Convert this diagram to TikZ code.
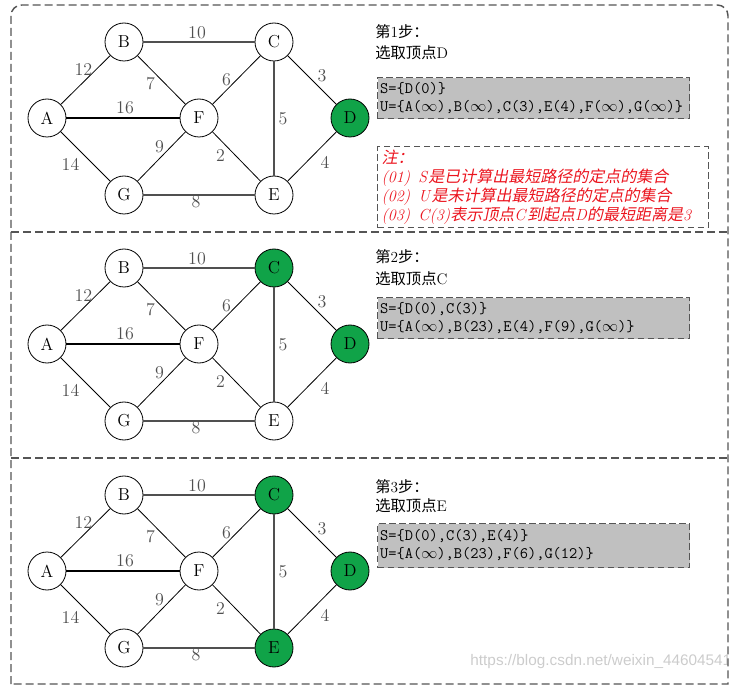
\documentclass[tikz,border=0pt]{standalone}
\usepackage{fontspec}
\newfontfamily\cjk{Noto Sans CJK SC}
\newfontfamily\cjkit[FakeSlant=0.2]{Noto Sans CJK SC}
\newfontfamily\wmfont{Liberation Sans}
\definecolor{pickgreen}{RGB}{16,163,72}
\definecolor{framegray}{RGB}{85,85,85}
\definecolor{boxgray}{RGB}{192,192,192}
\definecolor{wtgray}{RGB}{80,80,80}
\definecolor{notered}{RGB}{235,20,30}
\tikzset{
  frame/.style={draw=framegray, line width=1.1pt, dash pattern=on 6pt off 3pt},
  vtx/.style={circle, draw, line width=0.6pt, minimum size=28.5pt, inner sep=0pt,
    font=\fontsize{13}{13}\selectfont},
  ln/.style={line width=0.6pt},
  md/.style={line width=1pt},
  hv/.style={draw=wtgray, line width=1.4pt},
  wt/.style={text=wtgray, inner sep=0pt, font=\fontsize{13.5}{13.5}\selectfont},
  steptxt/.style={anchor=west, inner sep=0pt, font=\fontsize{11.5}{14}\selectfont},
  setbox/.style={anchor=north west, fill=boxgray, draw=framegray, line width=0.8pt,
    dash pattern=on 5pt off 2.5pt, inner xsep=2pt, inner ysep=0pt, text width=230pt,
    align=left, font=\ttfamily\fontsize{12}{13.5}\selectfont},
  notebox/.style={anchor=north west, draw=framegray, line width=0.8pt,
    dash pattern=on 5pt off 2.5pt, inner xsep=3pt, inner ysep=0pt, text width=242pt,
    minimum height=61pt, align=left, text=notered, font=\fontsize{12}{14.25}\selectfont}
}
\begin{document}
\begin{tikzpicture}[x=0.75pt, y=-0.75pt]
\useasboundingbox (0,0) rectangle (740,688);
\begin{scope}
\clip (0,0) rectangle (727,688);
\node[anchor=east, text=black!20, font=\wmfont\fontsize{11.5}{12}\selectfont] (wm) at (736,662) {https://blog.csdn.net/weixin\_44604541};
\end{scope}
\draw[frame] (11,684) [rounded corners=8] -- (11,5) -- (728,5) -- (728,100) [sharp corners] -- (728,684) -- cycle;
\draw[frame] (11,232) -- (728,232);
\draw[frame] (11,458) -- (728,458);
\foreach \i/\off/\cC/\cE in {1/0/white/white, 2/226/pickgreen/white, 3/453/pickgreen/pickgreen} {
  \begin{scope}[shift={(0,\off)}, name prefix=g\i-]
  \foreach \n/\x/\y/\f in {A/47/118/white, B/124/42/white, C/274/42/\cC, D/350/118/pickgreen,
      E/274/195/\cE, F/199/118/white, G/124/195/white}
    \node[vtx, fill=\f] (\n) at (\x,\y) {\n};
  \foreach \a/\b/\w/\dx/\dy/\s in {A/B/12/-2/-10/ln, B/C/10/-2/-9/hv, B/F/7/-11/4/ln,
      F/C/6/-10/0/ln, C/D/3/10/-4/ln, A/F/16/2/-10/md, C/E/5/9/0/hv, G/F/9/-2/-10/ln,
      F/E/2/-16/-1/ln, A/G/14/-15/8/ln, E/D/4/13/6/ln, G/E/8/-3/7/hv}
    \draw[\s] (\a) -- (\b) node[wt, midway, shift={(\dx,\dy)}] {\w};
  \end{scope}
}
\node[steptxt] (t1) at (375,32) {{\cjk 第}1{\cjk 步：}};
\node[steptxt] (p1) at (375,53) {{\cjk 选取顶点}D};
\node[setbox, minimum height=31pt] (set1) at (377,77)
  {S=\{D(0)\}\\U=\{A($\infty$),B($\infty$),C(3),E(4),F($\infty$),G($\infty$)\}};
\node[notebox] (note) at (377,146)
  {{\cjkit 注：}\\
   \textit{(01)\enspace S}{\cjkit 是已计算出最短路径的定点的集合}\\
   \textit{(02)\enspace U}{\cjkit 是未计算出最短路径的定点的集合}\\
   \textit{(03)\enspace C(3)}{\cjkit 表示顶点}\textit{C}{\cjkit 到起点}\textit{D}{\cjkit 的最短距离是}\textit{3}};
\node[steptxt] (t2) at (375,257) {{\cjk 第}2{\cjk 步：}};
\node[steptxt] (p2) at (375,279) {{\cjk 选取顶点}C};
\node[setbox, minimum height=31pt] (set2) at (377,297)
  {S=\{D(0),C(3)\}\\U=\{A($\infty$),B(23),E(4),F(9),G($\infty$)\}};
\node[steptxt] (t3) at (375,487) {{\cjk 第}3{\cjk 步：}};
\node[steptxt] (p3) at (375,506) {{\cjk 选取顶点}E};
\node[setbox, minimum height=33pt] (set3) at (377,523)
  {S=\{D(0),C(3),E(4)\}\\U=\{A($\infty$),B(23),F(6),G(12)\}};
\end{tikzpicture}
\end{document}
